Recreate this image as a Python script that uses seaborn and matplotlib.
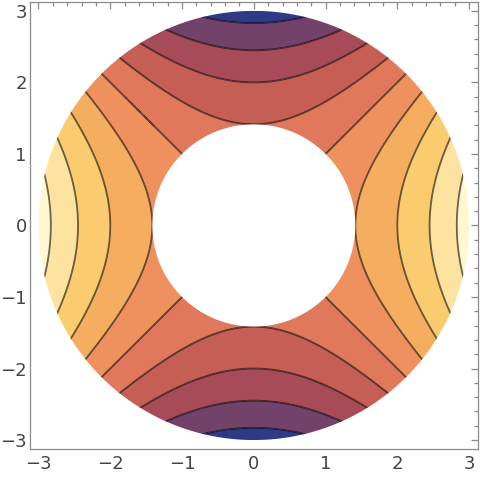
import numpy as np
import matplotlib
matplotlib.use("Agg")
import matplotlib.pyplot as plt
from matplotlib.path import Path
from matplotlib.patches import PathPatch
from matplotlib.ticker import MultipleLocator
import seaborn as sns

# ---- data ----
levels = [-9, -8, -6, -4, -2, 0, 2, 4, 6, 8, 9]
line_levels = [-8, -6, -4, -2, 0, 2, 4, 6, 8]
band_colors = ["#2e3a85", "#72426b", "#a64b57", "#c55e55", "#e0785b",
               "#ef915f", "#f5ae60", "#fbcb6f", "#fde2a0", "#fff7cf"]
r_inner = np.sqrt(2.0)
r_outer = 3.0
ticks = [-3, -2, -1, 0, 1, 2, 3]
tick_labels = ["\u22123", "\u22122", "\u22121", "0", "1", "2", "3"]

sns.set_theme(style="white")
plt.rcParams['font.family'] = ['DejaVu Sans']

fig = plt.figure(figsize=(4.8, 4.8), dpi=100)
ax = fig.add_axes([0.0615, 0.0646, 0.9345, 0.9314])

x = np.linspace(-3.05, 3.05, 700)
y = np.linspace(-3.05, 3.05, 700)
X, Y = np.meshgrid(x, y)
Z = X**2 - Y**2

palette = sns.color_palette(band_colors)
cf = ax.contourf(X, Y, Z, levels=levels, colors=palette, antialiased=True)
cl = ax.contour(X, Y, Z, levels=line_levels, colors="black", alpha=0.58,
                linewidths=1.3, linestyles="solid")

# annulus clip path
t = np.linspace(0, 2 * np.pi, 400)
outer = np.column_stack([r_outer * np.cos(t), r_outer * np.sin(t)])
inner = np.column_stack([r_inner * np.cos(t[::-1]), r_inner * np.sin(t[::-1])])
verts = np.vstack([outer, inner])
codes = np.concatenate([[Path.MOVETO], np.full(len(outer) - 1, Path.LINETO),
                        [Path.MOVETO], np.full(len(inner) - 1, Path.LINETO)])
patch = PathPatch(Path(verts, codes), facecolor="none", edgecolor="none", transform=ax.transData)
ax.add_patch(patch)
cf.set_clip_path(patch)
cl.set_clip_path(patch)

ax.set_xlim(-3.125, 3.125)
ax.set_ylim(-3.125, 3.125)
ax.set_aspect("auto")

ax.set_xticks(ticks)
ax.set_xticklabels(tick_labels)
ax.set_yticks(ticks)
ax.set_yticklabels(tick_labels)
ax.xaxis.set_minor_locator(MultipleLocator(0.2))
ax.yaxis.set_minor_locator(MultipleLocator(0.2))
ax.tick_params(which="both", direction="in", top=True, right=True,
               color="#8a8a8a", width=0.9)
ax.tick_params(which="major", length=5, labelsize=13, labelcolor="#444444")
ax.tick_params(axis="y", which="major", pad=2)
ax.tick_params(axis="x", which="major", pad=4)
ax.tick_params(which="minor", length=2.8)
for s in ax.spines.values():
    s.set_color("#8a8a8a")
    s.set_linewidth(0.9)
ax.grid(False)

fig.savefig("out.png", dpi=100, facecolor="white")
